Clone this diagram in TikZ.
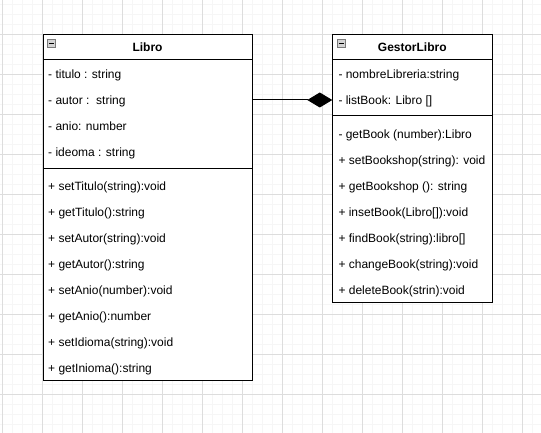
\documentclass[tikz,border=0pt]{standalone}
\usepackage{fontspec}
\setmainfont{Liberation Sans}
\usetikzlibrary{arrows.meta}
\definecolor{gridminor}{HTML}{F6F6F6}
\definecolor{gridmajor}{HTML}{DDDDDD}
\definecolor{iconfill}{HTML}{D4D4D4}
\definecolor{iconline}{HTML}{7A7A7A}
\tikzset{
  umlbox/.style={draw=black, line width=1pt, fill=white, anchor=north west, inner sep=0pt},
  member/.style={anchor=west, inner sep=0pt, text height=8.6pt, text depth=0pt, font=\fontsize{12}{14}\selectfont},
  title/.style={inner sep=0pt, font=\fontsize{12}{14}\selectfont\bfseries, text height=8.6pt, text depth=0pt},
  sep/.style={line width=1pt, draw=black},
  icon/.style={draw=iconline, fill=iconfill, line width=0.8pt, minimum size=8pt, inner sep=0pt},
}
\begin{document}
\begin{tikzpicture}[x=1pt,y=-1pt]
\useasboundingbox (0,0) rectangle (541,433);
% grid
\foreach \i in {0,...,54} {\draw[gridminor, line width=1pt] (2.3+10*\i,0) -- (2.3+10*\i,433);}
\foreach \j in {0,...,43} {\draw[gridminor, line width=1pt] (0,4.3+10*\j) -- (541,4.3+10*\j);}
\foreach \i in {0,...,13} {\draw[gridmajor, line width=0.8pt] (2.3+40*\i,0) -- (2.3+40*\i,433);}
\foreach \j in {0,...,11} {\draw[gridmajor, line width=0.8pt] (0,-5.7+40*\j) -- (541,-5.7+40*\j);}

% Libro
\node[umlbox, minimum width=209pt, minimum height=346pt] (libro) at (43,34) {};
\draw[sep] (43,60) -- (252,60);
\draw[sep] (43,168.7) -- (252,168.7);
\node[icon] (libroicon) at (51.5,43.5) {};
\draw[black, line width=1pt] (49,43.5) -- (54,43.5);
\node[title] (librotitle) at (147.5,47) {Libro};
\node[member] (la1) at (48,74) {- titulo : string};
\node[member] (la2) at (48,100) {- autor :\ \ string};
\node[member] (la3) at (48,126) {- anio: number};
\node[member] (la4) at (48,152) {- ideoma : string};
\node[member] (lm1) at (48,186) {+ setTitulo(string):void};
\node[member] (lm2) at (48,212) {+ getTitulo():string};
\node[member] (lm3) at (48,238) {+ setAutor(string):void};
\node[member] (lm4) at (48,264) {+ getAutor():string};
\node[member] (lm5) at (48,290) {+ setAnio(number):void};
\node[member] (lm6) at (48,316) {+ getAnio():number};
\node[member] (lm7) at (48,342) {+ setIdioma(string):void};
\node[member] (lm8) at (48,368) {+ getInioma():string};

% GestorLibro
\node[umlbox, minimum width=160pt, minimum height=268.3pt] (gestor) at (332.3,34) {};
\draw[sep] (332.3,59.7) -- (492.3,59.7);
\draw[sep] (332.3,116) -- (492.3,116);
\node[icon] (gestoricon) at (341.3,43.5) {};
\draw[black, line width=1pt] (338.8,43.5) -- (343.8,43.5);
\node[title] (gestortitle) at (412.3,47) {GestorLibro};
\node[member] (ga1) at (338.3,74) {- nombreLibreria:string};
\node[member] (ga2) at (338.3,100) {- listBook: Libro []};
\node[member] (gm1) at (338.3,134) {- getBook (number):Libro};
\node[member] (gm2) at (338.3,160) {+ setBookshop(string): void};
\node[member] (gm3) at (338.3,186) {+ getBookshop (): string};
\node[member] (gm4) at (338.3,212) {+ insetBook(Libro[]):void};
\node[member] (gm5) at (338.3,238) {+ findBook(string):libro[]};
\node[member] (gm6) at (338.3,264) {+ changeBook(string):void};
\node[member] (gm7) at (338.3,290) {+ deleteBook(strin):void};

% composition
\coordinate (cstart) at (libro.east |- 0,100);
\coordinate (cend) at (gestor.west |- 0,100);
\draw[line width=1pt, -{Diamond[length=25pt,width=15pt,fill=black]}] (cstart) -- (cend);
\end{tikzpicture}
\end{document}
